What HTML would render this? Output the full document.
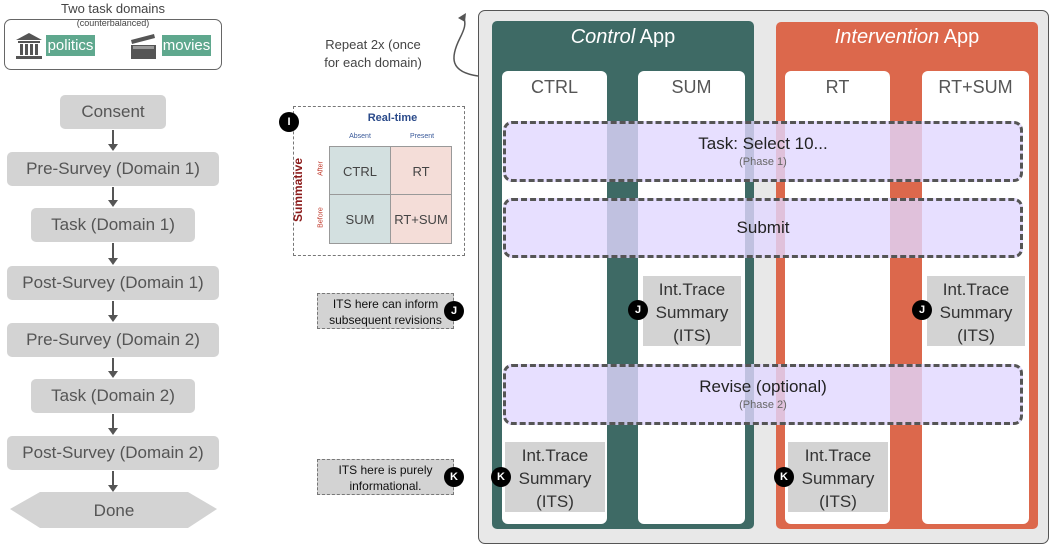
<!DOCTYPE html>
<html><head><meta charset="utf-8"><style>
body{margin:0;width:1053px;height:551px;background:#fff;position:relative;overflow:hidden;font-family:"Liberation Sans",sans-serif}
.a{position:absolute;box-sizing:border-box}
.fb{position:absolute;box-sizing:border-box;background:#d3d3d3;border-radius:5px;color:#555;font-size:17px;display:flex;align-items:center;justify-content:center}
.col{position:absolute;background:#fff;border-radius:6px;color:#555;font-size:18px;text-align:center;padding-top:6px;box-sizing:border-box}
.band{position:absolute;box-sizing:border-box;background:rgba(225,215,255,0.8);border:3px dashed #555;border-radius:9px;text-align:center;color:#222;font-size:17px}
.its{position:absolute;background:#d3d3d3;color:#333;font-size:17px;text-align:center;line-height:23px;box-sizing:border-box;padding-top:2px}
.bd{position:absolute;width:20px;height:20px;border-radius:50%;background:#000;color:#fff;font-size:11px;font-weight:bold;text-align:center;line-height:20px}
.arr{position:absolute;left:112px;width:2px;background:#555}
.arr:after{content:"";position:absolute;left:-4px;bottom:-6px;border-left:5px solid transparent;border-right:5px solid transparent;border-top:7px solid #555}
.note{position:absolute;box-sizing:border-box;background:#d3d3d3;border:1.5px dashed #777;font-size:12px;color:#111;text-align:center;line-height:16px;padding-top:2px}
</style></head><body>

<!-- top domain box -->
<div class="a" style="left:4px;top:19px;width:218px;height:51px;border:1.5px solid #666;border-radius:7px"></div>
<div class="a" style="left:55px;top:1px;width:116px;background:#fff;text-align:center;font-size:13px;color:#444">Two task domains</div>
<div class="a" style="left:60px;top:18px;width:106px;text-align:center;font-size:9px;color:#444">(counterbalanced)</div>
<svg class="a" style="left:15px;top:32px" width="28" height="28"><polygon points="14,1 27,8 1,8" fill="#555"/><rect x="3" y="9" width="22" height="2" fill="#555"/><rect x="5" y="12" width="3" height="11" fill="#555"/><rect x="10" y="12" width="3" height="11" fill="#555"/><rect x="15" y="12" width="3" height="11" fill="#555"/><rect x="20" y="12" width="3" height="11" fill="#555"/><rect x="1" y="24" width="26" height="3" fill="#555"/></svg>
<div class="a" style="left:46px;top:35px;width:49px;height:21px;background:#5fa88e;color:#fff;font-size:15px;text-align:center;line-height:21px">politics</div>
<svg class="a" style="left:130px;top:32px" width="27" height="28"><polygon points="1,8 24,2 25,6 2,12" fill="#555"/><rect x="1" y="13" width="25" height="14" fill="#555"/><rect x="3" y="14" width="21" height="3" fill="#999"/></svg>
<div class="a" style="left:162px;top:35px;width:49px;height:21px;background:#5fa88e;color:#fff;font-size:15px;text-align:center;line-height:21px">movies</div>

<!-- flow -->
<div class="fb" style="left:60px;top:95px;width:106px;height:34px">Consent</div>
<div class="arr" style="top:130px;height:15px"></div>
<div class="fb" style="left:7px;top:152px;width:212px;height:34px">Pre-Survey (Domain 1)</div>
<div class="arr" style="top:187px;height:14px"></div>
<div class="fb" style="left:31px;top:208px;width:164px;height:34px">Task (Domain 1)</div>
<div class="arr" style="top:243px;height:16px"></div>
<div class="fb" style="left:7px;top:266px;width:212px;height:34px">Post-Survey (Domain 1)</div>
<div class="arr" style="top:301px;height:15px"></div>
<div class="fb" style="left:7px;top:323px;width:212px;height:34px">Pre-Survey (Domain 2)</div>
<div class="arr" style="top:358px;height:14px"></div>
<div class="fb" style="left:31px;top:379px;width:164px;height:34px">Task (Domain 2)</div>
<div class="arr" style="top:414px;height:15px"></div>
<div class="fb" style="left:7px;top:436px;width:212px;height:34px">Post-Survey (Domain 2)</div>
<div class="arr" style="top:471px;height:15px"></div>
<svg class="a" style="left:10px;top:491px" width="208" height="38"><polygon points="0,18 30,1 178,1 207,18 178,37 30,37" fill="#d3d3d3"/><text x="104" y="25" text-anchor="middle" font-size="17" fill="#555" font-family="Liberation Sans">Done</text></svg>

<!-- repeat -->
<div class="a" style="left:318px;top:36px;width:110px;text-align:center;font-size:13px;color:#444;line-height:18px">Repeat 2x (once<br>for each domain)</div>
<svg class="a" style="left:430px;top:8px" width="50" height="80"><path d="M48,68 C20,64 20,50 30,30 C34,22 37,15 33,9" fill="none" stroke="#555" stroke-width="1.5" transform="translate(0,0)"/><path d="M20,65 Q12,40 36,8" fill="none" stroke="#555" stroke-width="1.5" opacity="0"/><polygon points="36,5 28,10 35,14" fill="#555"/></svg>

<!-- matrix -->
<div class="a" style="left:293px;top:106px;width:172px;height:150px;border:1.5px dashed #777"></div>
<div class="bd" style="left:279px;top:112px">I</div>
<div class="a" style="left:345px;top:112px;width:95px;text-align:center;font-size:11px;font-weight:bold;color:#2a4a8a">Real-time</div>
<div class="a" style="left:329px;top:133px;width:62px;text-align:center;font-size:7px;color:#3a5a9a">Absent</div>
<div class="a" style="left:391px;top:133px;width:62px;text-align:center;font-size:7px;color:#3a5a9a">Present</div>
<div class="a" style="left:329px;top:146px;width:62px;height:49px;background:#d3e0e0;border:1px solid #999;font-size:13px;color:#444;text-align:center;line-height:49px">CTRL</div>
<div class="a" style="left:390px;top:146px;width:62px;height:49px;background:#f4ddd8;border:1px solid #999;font-size:13px;color:#444;text-align:center;line-height:49px">RT</div>
<div class="a" style="left:329px;top:194px;width:62px;height:50px;background:#d3e0e0;border:1px solid #999;font-size:13px;color:#444;text-align:center;line-height:50px">SUM</div>
<div class="a" style="left:390px;top:194px;width:62px;height:50px;background:#f4ddd8;border:1px solid #999;font-size:13px;color:#444;text-align:center;line-height:50px">RT+SUM</div>
<div class="a" style="left:258px;top:183px;width:80px;text-align:center;transform:rotate(-90deg);font-size:12px;font-weight:bold;color:#8b1a1a">Summative</div>
<div class="a" style="left:301px;top:165px;width:40px;text-align:center;transform:rotate(-90deg);font-size:7px;color:#c0392b">After</div>
<div class="a" style="left:301px;top:214px;width:40px;text-align:center;transform:rotate(-90deg);font-size:7px;color:#c0392b">Before</div>

<!-- notes -->
<div class="note" style="left:317px;top:293px;width:137px;height:36px">ITS here can inform<br>subsequent revisions</div>
<div class="bd" style="left:444px;top:301px">J</div>
<div class="note" style="left:317px;top:459px;width:137px;height:36px">ITS here is purely<br>informational.</div>
<div class="bd" style="left:444px;top:467px">K</div>

<!-- main -->
<div class="a" style="left:478px;top:10px;width:571px;height:534px;background:#e8e8e8;border:1.5px solid #555;border-radius:7px"></div>
<div class="a" style="left:492px;top:21px;width:262px;height:508px;background:#3e6a65;border-radius:5px"></div>
<div class="a" style="left:776px;top:22px;width:262px;height:507px;background:#dc684c;border-radius:5px"></div>
<div class="a" style="left:492px;top:26px;width:262px;text-align:center;color:#fff;font-size:20px"><i>Control</i> App</div>
<div class="a" style="left:776px;top:26px;width:262px;text-align:center;color:#fff;font-size:20px"><i>Intervention</i> App</div>
<div class="col" style="left:502px;top:71px;width:105px;height:453px">CTRL</div>
<div class="col" style="left:638px;top:71px;width:107px;height:453px">SUM</div>
<div class="col" style="left:785px;top:71px;width:105px;height:453px">RT</div>
<div class="col" style="left:922px;top:71px;width:107px;height:453px">RT+SUM</div>

<div class="its" style="left:643px;top:276px;width:98px;height:70px">Int.Trace<br>Summary<br>(ITS)</div>
<div class="its" style="left:927px;top:276px;width:98px;height:70px">Int.Trace<br>Summary<br>(ITS)</div>
<div class="its" style="left:505px;top:442px;width:100px;height:70px">Int.Trace<br>Summary<br>(ITS)</div>
<div class="its" style="left:788px;top:442px;width:100px;height:70px">Int.Trace<br>Summary<br>(ITS)</div>
<div class="bd" style="left:628px;top:300px">J</div>
<div class="bd" style="left:912px;top:300px">J</div>
<div class="bd" style="left:491px;top:467px">K</div>
<div class="bd" style="left:774px;top:467px">K</div>

<div class="band" style="left:503px;top:121px;width:520px;height:61px;padding-top:10px">Task: Select 10...<div style="font-size:11px;color:#666;margin-top:2px">(Phase 1)</div></div>
<div class="band" style="left:503px;top:198px;width:520px;height:60px;line-height:54px">Submit</div>
<div class="band" style="left:503px;top:364px;width:520px;height:61px;padding-top:10px">Revise (optional)<div style="font-size:11px;color:#666;margin-top:2px">(Phase 2)</div></div>
</body></html>
